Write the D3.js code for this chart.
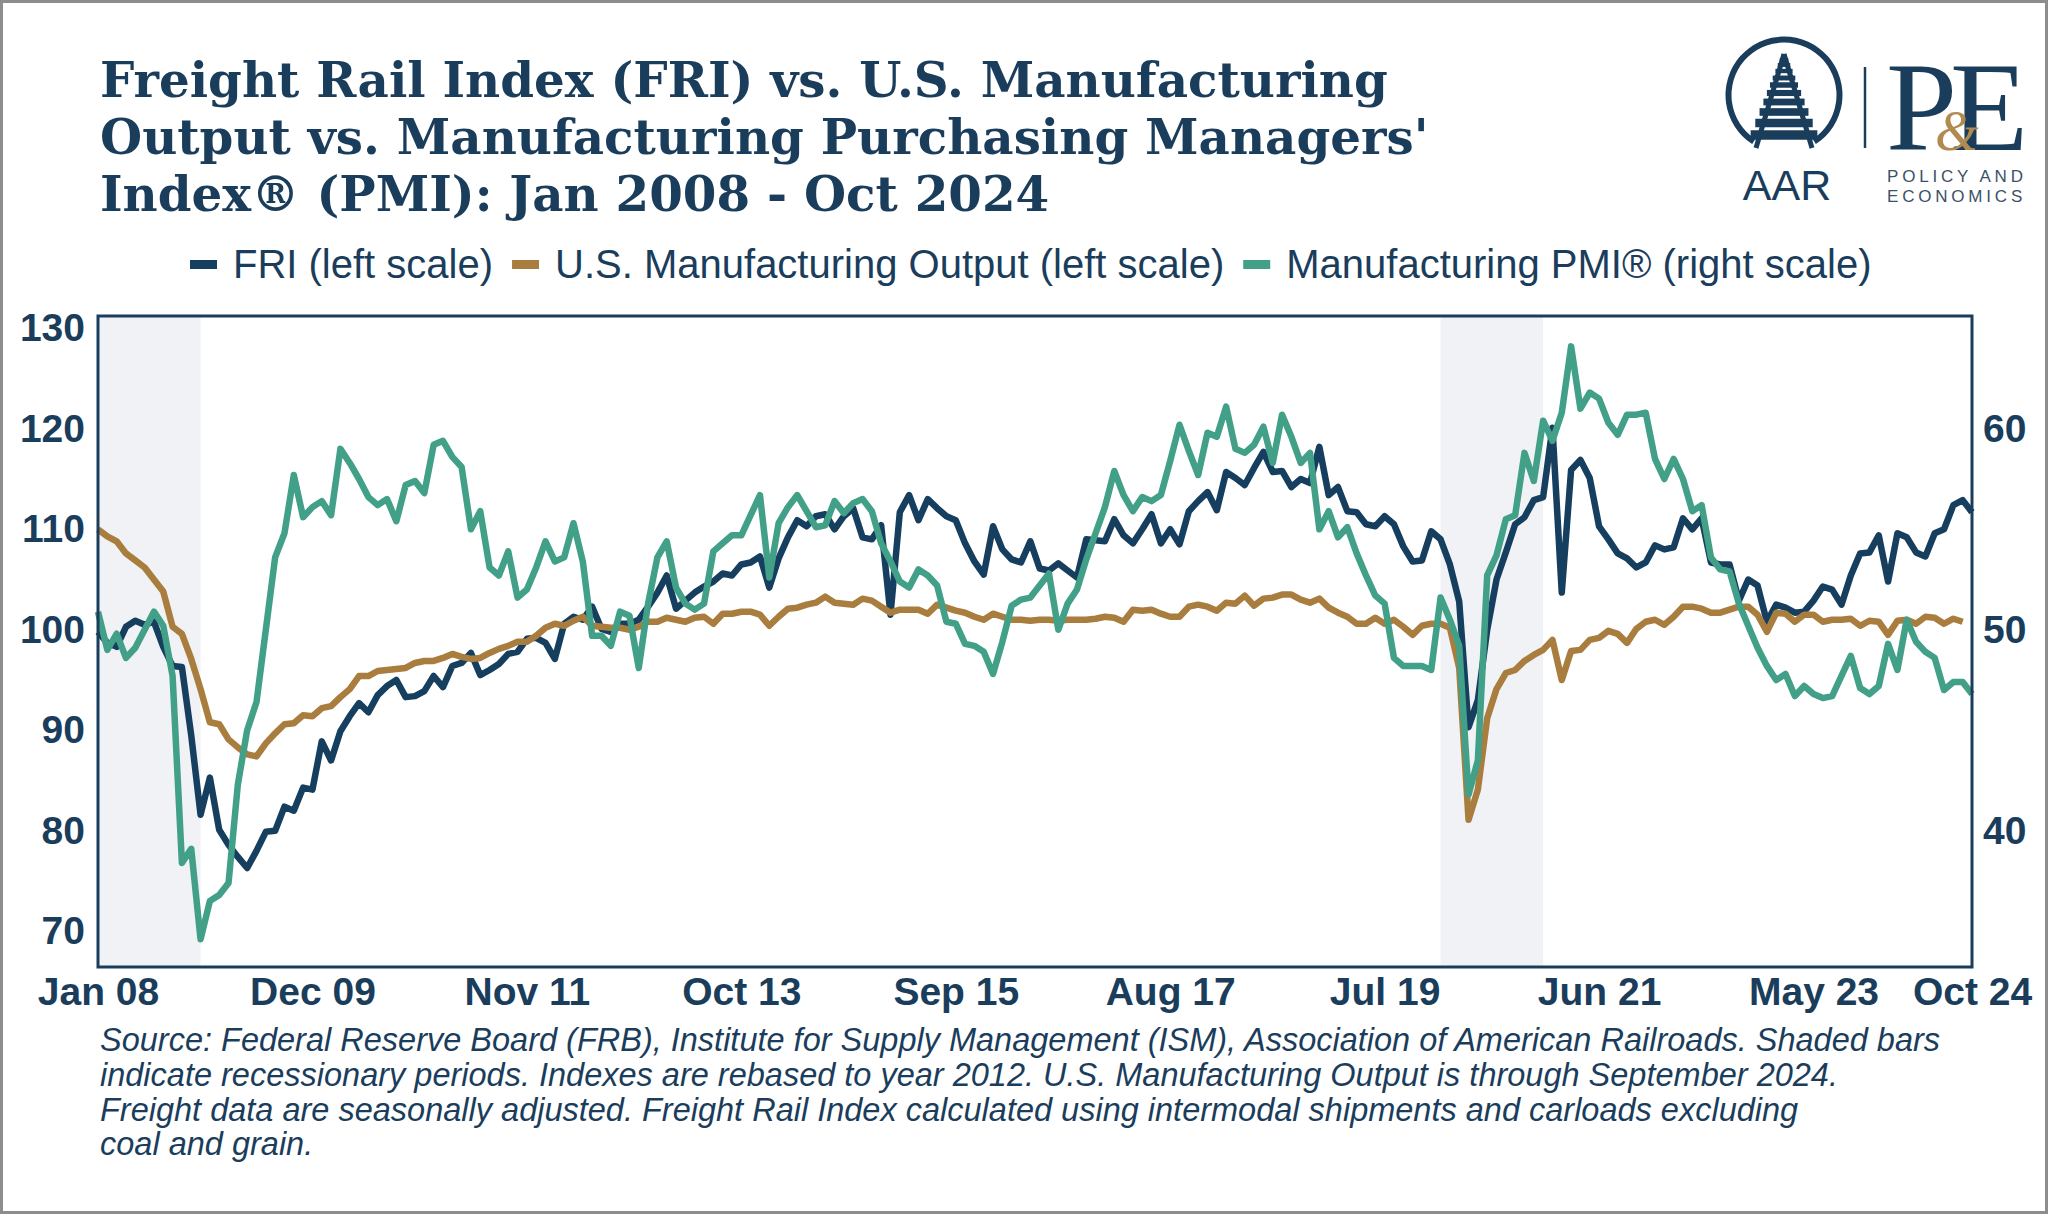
<!DOCTYPE html>
<html>
<head>
<meta charset="utf-8">
<script src="https://cdn.jsdelivr.net/npm/d3@7"></script>
<style>
  html, body { margin: 0; padding: 0; background: #fff; }
  svg { display: block; }
</style>
</head>
<body>
<div id="chart"></div>
<script>
// Text
const titleLines = [
    "Freight Rail Index (FRI) vs. U.S. Manufacturing",
    "Output vs. Manufacturing Purchasing Managers'",
    "Index\u00AE (PMI): Jan 2008 - Oct 2024"
];
const legendLabels = [
    "FRI (left scale)",
    "U.S. Manufacturing Output (left scale)",
    "Manufacturing PMI\u00AE (right scale)"
];
const footnoteLines = [
    "Source: Federal Reserve Board (FRB), Institute for Supply Management (ISM), Association of American Railroads. Shaded bars",
    "indicate recessionary periods. Indexes are rebased to year 2012. U.S. Manufacturing Output is through September 2024.",
    "Freight data are seasonally adjusted. Freight Rail Index calculated using intermodal shipments and carloads excluding",
    "coal and grain."
];

// Axes
const firstMonth = "Jan 08";
const xTickLabels = ["Jan 08", "Dec 09", "Nov 11", "Oct 13", "Sep 15", "Aug 17", "Jul 19", "Jun 21", "May 23", "Oct 24"];
const leftTicks = [70, 80, 90, 100, 110, 120, 130];
const rightTicks = [40, 50, 60];
const recessions = [["Jan 08", "Dec 08"], ["Jan 20", "Dec 20"]];

// Monthly series, Jan 2008 onward
const fri = [
    99.8, 98.7, 98.3, 100.3, 100.9, 100.5, 100.8, 98.3, 96.4, 96.3, 89.5, 81.6,
    85.3, 80.1, 78.6, 77.4, 76.3, 78.0, 79.9, 80.0, 82.4, 82.0, 84.3, 84.1,
    88.9, 87.0, 89.9, 91.4, 92.7, 91.8, 93.5, 94.4, 95.0, 93.3, 93.4, 93.9,
    95.4, 94.3, 96.4, 96.7, 97.7, 95.5, 96.0, 96.6, 97.6, 97.8, 99.1, 99.2,
    98.7, 97.1, 100.6, 101.3, 101.0, 102.3, 100.1, 99.8, 100.6, 100.6, 101.0, 102.3,
    103.7, 105.4, 102.1, 102.9, 103.7, 104.3, 104.8, 105.6, 105.4, 106.5, 106.7, 107.3,
    104.2, 107.1, 109.2, 110.9, 110.3, 111.3, 111.5, 110.0, 111.3, 112.1, 109.2, 109.0,
    110.4, 101.5, 111.7, 113.4, 110.9, 113.0, 112.1, 111.3, 110.9, 108.6, 106.8, 105.5,
    110.3, 108.0, 107.0, 106.7, 108.8, 106.1, 105.9, 106.6, 105.9, 105.2, 109.0, 108.9,
    108.8, 111.0, 109.4, 108.6, 110.0, 111.5, 108.6, 110.0, 108.5, 111.8, 112.8, 113.7,
    111.9, 115.7, 115.1, 114.4, 116.1, 117.7, 115.7, 115.8, 114.2, 115.0, 114.6, 118.2,
    113.4, 114.2, 111.8, 111.7, 110.5, 110.3, 111.3, 110.5, 108.3, 106.8, 106.9, 109.8,
    109.0, 106.5, 102.8, 90.3, 93.0, 100.0, 105.0, 107.7, 110.5, 111.2, 112.9, 113.2,
    120.1, 103.7, 115.9, 116.9, 115.1, 110.3, 109.0, 107.6, 107.1, 106.2, 106.7, 108.4,
    108.0, 108.2, 111.1, 110.0, 111.1, 106.7, 106.5, 106.5, 102.9, 105.0, 104.4, 100.8,
    102.5, 102.2, 101.7, 101.8, 102.9, 104.3, 104.0, 102.5, 105.4, 107.6, 107.7, 109.4,
    104.8, 109.6, 109.2, 107.7, 107.3, 109.6, 110.0, 112.4, 112.9, 111.7
];
const mfgOutput = [
    110.0, 109.3, 108.8, 107.6, 106.9, 106.2, 105.0, 103.8, 100.3, 99.6, 97.1, 94.1,
    90.8, 90.6, 89.1, 88.3, 87.6, 87.4, 88.7, 89.7, 90.6, 90.7, 91.5, 91.4,
    92.2, 92.4, 93.3, 94.1, 95.4, 95.4, 95.9, 96.0, 96.1, 96.2, 96.7, 96.9,
    96.9, 97.2, 97.6, 97.3, 97.1, 97.2, 97.7, 98.1, 98.4, 98.8, 98.8, 99.4,
    100.2, 100.6, 100.4, 100.9, 101.3, 100.4, 100.3, 100.2, 100.2, 100.0, 100.3, 100.8,
    100.8, 101.2, 101.0, 100.8, 101.2, 101.3, 100.6, 101.6, 101.6, 101.8, 101.8, 101.5,
    100.4, 101.3, 102.1, 102.2, 102.5, 102.7, 103.3, 102.7, 102.6, 102.5, 103.1, 102.9,
    102.3, 101.7, 102.0, 102.0, 102.0, 101.6, 102.5, 102.2, 101.9, 101.7, 101.3, 101.0,
    101.6, 101.3, 101.0, 101.0, 100.9, 101.0, 101.0, 100.9, 101.0, 101.0, 101.0, 101.1,
    101.3, 101.2, 100.8, 102.0, 101.9, 102.0, 101.6, 101.3, 101.3, 102.3, 102.5, 102.3,
    101.9, 102.7, 102.6, 103.4, 102.4, 103.1, 103.2, 103.5, 103.5, 103.0, 102.7, 103.1,
    102.2, 101.7, 101.3, 100.6, 100.6, 101.2, 100.6, 101.0, 100.3, 99.5, 100.4, 100.6,
    100.6, 100.2, 96.2, 81.1, 84.1, 91.2, 94.1, 95.7, 96.0, 96.9, 97.5, 98.0,
    99.0, 95.0, 97.9, 98.0, 99.0, 99.2, 99.9, 99.6, 98.7, 100.1, 100.8, 101.0,
    100.5, 101.3, 102.3, 102.3, 102.1, 101.7, 101.7, 102.0, 102.3, 102.3, 101.5, 99.8,
    101.7, 101.6, 100.8, 101.5, 101.5, 100.8, 101.0, 101.0, 101.1, 100.4, 100.9, 100.8,
    99.5, 100.9, 101.0, 100.6, 101.3, 101.2, 100.6, 101.1, 100.8
];
const pmi = [
    50.9, 49.0, 49.8, 48.6, 49.1, 50.0, 50.9, 50.2, 47.7, 38.4, 39.1, 34.6,
    36.5, 36.8, 37.4, 42.3, 45.0, 46.4, 50.0, 53.6, 54.8, 57.7, 55.6, 56.1,
    56.4, 55.7, 59.0, 58.3, 57.5, 56.6, 56.2, 56.5, 55.4, 57.2, 57.4, 56.8,
    59.2, 59.4, 58.6, 58.1, 55.0, 55.9, 53.1, 52.7, 53.9, 51.6, 52.0, 53.1,
    54.4, 53.4, 53.6, 55.3, 53.4, 49.7, 49.7, 49.2, 50.9, 50.7, 48.1, 51.3,
    53.6, 54.4, 52.1, 51.3, 51.0, 51.3, 53.9, 54.3, 54.7, 54.7, 55.7, 56.7,
    52.6, 55.3, 56.1, 56.7, 55.9, 55.1, 55.2, 56.4, 55.8, 56.3, 56.5, 55.9,
    54.3, 53.4, 52.4, 52.1, 53.0, 52.7, 52.2, 50.4, 50.3, 49.3, 49.2, 48.9,
    47.8, 49.4, 51.2, 51.5, 51.6, 52.2, 52.8, 50.0, 51.3, 52.0, 53.5, 54.8,
    56.1, 57.9, 56.7, 55.9, 56.6, 56.4, 56.7, 58.4, 60.2, 58.9, 57.7, 59.8,
    59.6, 61.1, 59.0, 58.8, 59.2, 60.1, 58.3, 60.7, 59.6, 58.3, 58.8, 55.0,
    55.9, 54.6, 55.1, 53.8, 52.7, 51.7, 51.3, 48.6, 48.2, 48.2, 48.2, 48.0,
    51.6, 50.5, 49.2, 41.8, 43.5, 52.7, 53.7, 55.5, 55.7, 58.8, 57.4, 60.4,
    59.4, 60.8, 64.1, 61.0, 61.8, 61.5, 60.3, 59.7, 60.7, 60.7, 60.8, 58.5,
    57.5, 58.5, 57.5, 55.9, 56.2, 53.6, 53.0, 52.9, 51.3, 50.2, 49.1, 48.2,
    47.5, 47.8, 46.7, 47.2, 46.8, 46.6, 46.7, 47.7, 48.7, 47.1, 46.8, 47.2,
    49.3, 48.0, 50.5, 49.4, 48.9, 48.6, 47.0, 47.4, 47.4, 46.8
];

const colors = {
    text: "#1b3d5c",
    fri: "#163e5e",
    output: "#a97d3e",
    pmi: "#41a087",
    shade: "#f0f2f5",
    frame: "#8d8d8d",
    amp: "#b08a4e"
};

const W = 2048, H = 1214;
const plot = { left: 98, right: 1972, top: 316, bottom: 967 };
const sans = "'Liberation Sans', Arial, sans-serif";

const parseMonth = d3.timeParse("%b %y");
const start = parseMonth(firstMonth);
const monthIndex = label => {
    const d = parseMonth(label);
    return (d.getFullYear() - start.getFullYear()) * 12 + d.getMonth() - start.getMonth();
};

const svg = d3.select("#chart")
    .append("svg")
    .attr("width", W)
    .attr("height", H);

svg.append("rect")
    .attr("width", W)
    .attr("height", H)
    .attr("fill", "#fff");

// Scales
const x = d3.scaleLinear()
    .domain([0, fri.length - 1])
    .range([plot.left, plot.right]);

const yLeft = d3.scaleLinear()
    .domain([66.45, 131.22])
    .range([plot.bottom, plot.top]);

const yRight = d3.scaleLinear()
    .domain([33.22, 65.61])
    .range([plot.bottom, plot.top]);

// Title
const title = svg.append("g")
    .attr("font-family", "'DejaVu Serif', Georgia, serif")
    .attr("font-weight", "bold")
    .attr("fill", colors.text);

title.selectAll("text")
    .data(titleLines)
    .join("text")
    .attr("x", 100)
    .attr("y", (d, i) => 97 + i * 57)
    .attr("font-size", 47)
    .text(d => d);

// fit the first line to the reference width
const firstWidth = title.select("text").node().getComputedTextLength();
const titleSize = 47 * 1288 / firstWidth;
title.selectAll("text").attr("font-size", titleSize);

// Legend
const legendColors = [colors.fri, colors.output, colors.pmi];
const legend = svg.append("g")
    .attr("font-family", sans)
    .attr("font-size", 40)
    .attr("fill", colors.text);

let lx = 190;
legendLabels.forEach((label, i) => {
    legend.append("rect")
        .attr("x", lx)
        .attr("y", 260)
        .attr("width", 27)
        .attr("height", 9)
        .attr("fill", legendColors[i]);
    const t = legend.append("text")
        .attr("x", lx + 43)
        .attr("y", 278)
        .text(label);
    lx += 43 + t.node().getComputedTextLength() + 19;
});

// Recession shading
svg.append("g")
    .selectAll("rect")
    .data(recessions)
    .join("rect")
    .attr("x", d => x(monthIndex(d[0])))
    .attr("y", plot.top)
    .attr("width", d => x(monthIndex(d[1])) - x(monthIndex(d[0])))
    .attr("height", plot.bottom - plot.top)
    .attr("fill", colors.shade);

// Lines
const leftLine = d3.line()
    .x((d, i) => x(i))
    .y(d => yLeft(d));

const rightLine = d3.line()
    .x((d, i) => x(i))
    .y(d => yRight(d));

const series = [
    { data: fri, line: leftLine, color: colors.fri },
    { data: mfgOutput, line: leftLine, color: colors.output },
    { data: pmi, line: rightLine, color: colors.pmi }
];

svg.append("g")
    .selectAll("path")
    .data(series)
    .join("path")
    .attr("d", d => d.line(d.data))
    .attr("fill", "none")
    .attr("stroke", d => d.color)
    .attr("stroke-width", 6.5)
    .attr("stroke-linejoin", "round");

// Plot frame
svg.append("rect")
    .attr("x", plot.left)
    .attr("y", plot.top)
    .attr("width", plot.right - plot.left)
    .attr("height", plot.bottom - plot.top)
    .attr("fill", "none")
    .attr("stroke", colors.text)
    .attr("stroke-width", 3);

// Axes
const styleAxis = g => {
    g.select(".domain").remove();
    g.selectAll("text")
        .attr("font-family", sans)
        .attr("font-size", 39)
        .attr("font-weight", "bold")
        .attr("fill", colors.text);
};

svg.append("g")
    .attr("transform", `translate(${plot.left},0)`)
    .call(d3.axisLeft(yLeft).tickValues(leftTicks).tickSize(0).tickPadding(13))
    .call(styleAxis);

svg.append("g")
    .attr("transform", `translate(${plot.right},0)`)
    .call(d3.axisRight(yRight).tickValues(rightTicks).tickSize(0).tickPadding(11))
    .call(styleAxis);

svg.append("g")
    .attr("transform", `translate(0,${plot.bottom})`)
    .call(d3.axisBottom(x)
        .tickValues(xTickLabels.map(monthIndex))
        .tickFormat((d, i) => xTickLabels[i])
        .tickSize(0)
        .tickPadding(10))
    .call(styleAxis);

// Footnote
svg.append("g")
    .attr("font-family", sans)
    .attr("font-size", 32.5)
    .attr("font-style", "italic")
    .attr("fill", colors.text)
    .selectAll("text")
    .data(footnoteLines)
    .join("text")
    .attr("x", 100)
    .attr("y", (d, i) => 1051 + i * 34.8)
    .text(d => d);

// Logo: AAR
const logo = svg.append("g").attr("fill", colors.text);
const cx = 1784, cy = 95;

logo.append("path")
    .attr("transform", `translate(${cx},${cy})`)
    .attr("d", d3.arc()
        .innerRadius(52.5)
        .outerRadius(58.5)
        .startAngle(-147 * Math.PI / 180)
        .endAngle(147 * Math.PI / 180)());

const apexY = 54, baseY = 148, railHalf = 28;
[-1, 1].forEach(s => {
    logo.append("line")
        .attr("x1", cx).attr("y1", apexY)
        .attr("x2", cx + s * railHalf).attr("y2", baseY)
        .attr("stroke", colors.text)
        .attr("stroke-width", 5);
});

const tieYs = [60, 65, 71, 78, 85, 93, 102, 112, 123, 135];
logo.selectAll(".tie")
    .data(tieYs)
    .join("rect")
    .attr("class", "tie")
    .attr("x", d => cx - (d - apexY) / (baseY - apexY) * railHalf * 1.3 - 2)
    .attr("width", d => 2 * ((d - apexY) / (baseY - apexY) * railHalf * 1.3 + 2))
    .attr("y", d => d - (1.5 + (d - apexY) * 0.04))
    .attr("height", d => 3 + (d - apexY) * 0.08);

logo.append("text")
    .attr("x", 1787)
    .attr("y", 200)
    .attr("text-anchor", "middle")
    .attr("font-family", sans)
    .attr("font-size", 43)
    .text("AAR");

logo.append("line")
    .attr("x1", 1865).attr("y1", 67)
    .attr("x2", 1865).attr("y2", 148)
    .attr("stroke", colors.text)
    .attr("stroke-width", 2.5);

// Logo: P&E wordmark, one text element
const serif = "'Liberation Serif', 'Times New Roman', serif";
const mark = logo.append("text")
    .attr("font-family", serif);
mark.append("tspan")
    .attr("x", 1886).attr("y", 150)
    .attr("font-size", 128)
    .text("P");
mark.append("tspan")
    .attr("x", 1950).attr("y", 150)
    .attr("font-size", 128)
    .text("E");
mark.append("tspan")
    .attr("x", 1935).attr("y", 150)
    .attr("font-size", 56)
    .attr("font-style", "italic")
    .attr("fill", colors.amp)
    .text("&");

const tagline = logo.append("text")
    .attr("font-family", sans)
    .attr("font-size", 17)
    .attr("letter-spacing", 3.8)
    .attr("fill", "#3b5168");
["POLICY AND", "ECONOMICS"].forEach((d, i) => {
    tagline.append("tspan")
        .attr("x", 1887)
        .attr("y", 182 + i * 20)
        .text(d);
});

// Outer frame
svg.append("rect")
    .attr("x", 1.5)
    .attr("y", 1.5)
    .attr("width", W - 3)
    .attr("height", H - 3)
    .attr("fill", "none")
    .attr("stroke", colors.frame)
    .attr("stroke-width", 3);
</script>
</body>
</html>
